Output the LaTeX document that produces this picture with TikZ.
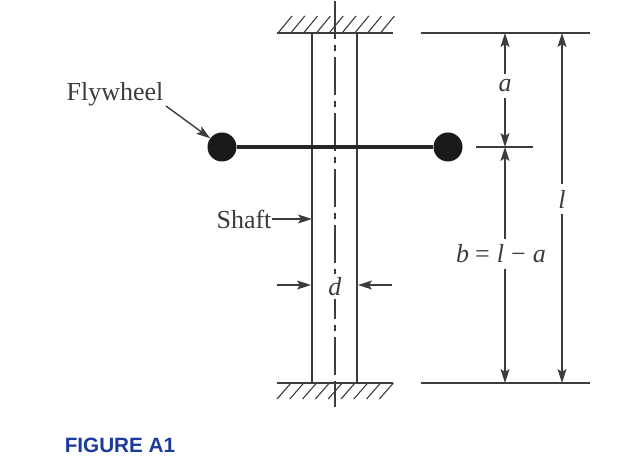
\documentclass[tikz,border=0pt]{standalone}
\usepackage{fontspec}
\setmainfont{Liberation Serif}
\newfontfamily\captionfont{Liberation Sans}
\usepackage{xcolor}
\definecolor{figBlue}{HTML}{1A3A9C}
\definecolor{figInk}{HTML}{3C3C3C}
\usetikzlibrary{arrows.meta}
\tikzset{every node/.style={inner sep=0pt,text=figInk,font=\fontsize{26}{28}\selectfont}}
\tikzset{thin line/.style={draw=figInk,line width=1.4pt}}
\tikzset{hatch/.style={draw=figInk,line width=1.1pt}}
\tikzset{lead/.style={thin line,-{Stealth[length=14pt,width=9pt,inset=3pt]}}}
\tikzset{center line/.style={thin line,dash pattern=on 38pt off 6pt on 6pt off 6pt}}
\tikzset{flywheel/.style={circle,fill=black!90,minimum size=29pt}}
\tikzset{gap label/.style={fill=white,minimum width=16pt}}
\begin{document}
\begin{tikzpicture}[x=1pt,y=-1pt]
\useasboundingbox (0,0) rectangle (633,462);
% walls
\coordinate (wallTL) at (277,33);
\coordinate (wallTR) at (393,33);
\coordinate (wallBL) at (277,383);
\coordinate (wallBR) at (393,383);
\draw[thin line] (wallTL) -- (wallTR);
\draw[thin line] (wallBL) -- (wallBR);
\foreach \x in {0,...,8}{
  \draw[hatch] (278+\x*12.8,33) -- +(14,-17);
  \draw[hatch] (277+\x*12.8,399) -- +(14,-16);
}
% axis
\coordinate (axisT) at (335,1);
\coordinate (axisB) at (335,387);
\coordinate (axisEnd) at (335,407);
\draw[center line] (axisT) -- (axisB);
\draw[thin line] (axisB) -- (axisEnd);
% shaft
\coordinate (shaftTL) at (312,33);
\coordinate (shaftBL) at (312,383);
\coordinate (shaftTR) at (357,33);
\coordinate (shaftBR) at (357,383);
\draw[thin line] (shaftTL) -- (shaftBL);
\draw[thin line] (shaftTR) -- (shaftBR);
% flywheel
\node[flywheel](massL) at (222,147){};
\node[flywheel](massR) at (448,147){};
\draw[line width=3.2pt,draw=black!85] (massL) -- (massR);
\node(flywheel) at (115,94){Flywheel};
\coordinate (flyStart) at (166,106);
\draw[lead] (flyStart) -- (massL);
% shaft label
\node(shaft) at (244,219){Shaft};
\coordinate (shaftP) at (312,219);
\draw[lead] (shaft.east |- shaftP) -- (shaftP);
% diameter
\node[gap label,minimum height=25pt](d) at (335,287){\textit{d}};
\coordinate (dL) at (277,285);
\coordinate (dR) at (392,285);
\coordinate (dLe) at (311,285);
\coordinate (dRe) at (358,285);
\draw[lead] (dL) -- (dLe);
\draw[lead] (dR) -- (dRe);
% extension lines
\coordinate (topL) at (421,33);
\coordinate (topR) at (590,33);
\coordinate (midL) at (476,147);
\coordinate (midR) at (533,147);
\coordinate (botL) at (421,383);
\coordinate (botR) at (590,383);
\draw[thin line] (topL) -- (topR);
\draw[thin line] (midL) -- (midR);
\draw[thin line] (botL) -- (botR);
% dimensions
\coordinate (aT) at (505,33);
\coordinate (aM) at (505,147);
\coordinate (bB) at (505,383);
\coordinate (lT) at (562,33);
\coordinate (lB) at (562,383);
\node[gap label,minimum height=24pt](a) at (505,86){\textit{a}};
\node[gap label,minimum height=29pt](l) at (562,199){\textit{l}};
\node[minimum height=29pt](b) at (501,254){\textit{b}\hspace{6pt}=\hspace{7pt}\textit{l}\hspace{7pt}−\hspace{7pt}\textit{a}};
\draw[lead] (a) -- (aT);
\draw[lead] (a) -- (aM);
\draw[lead] (b.north -| aM) -- (aM);
\draw[lead] (b.south -| bB) -- (bB);
\draw[lead] (l) -- (lT);
\draw[lead] (l) -- (lB);
% caption
\node[text=figBlue,font=\captionfont\bfseries\fontsize{20.7}{24}\selectfont](fig) at (120,445){FIGURE A1};
\end{tikzpicture}
\end{document}
